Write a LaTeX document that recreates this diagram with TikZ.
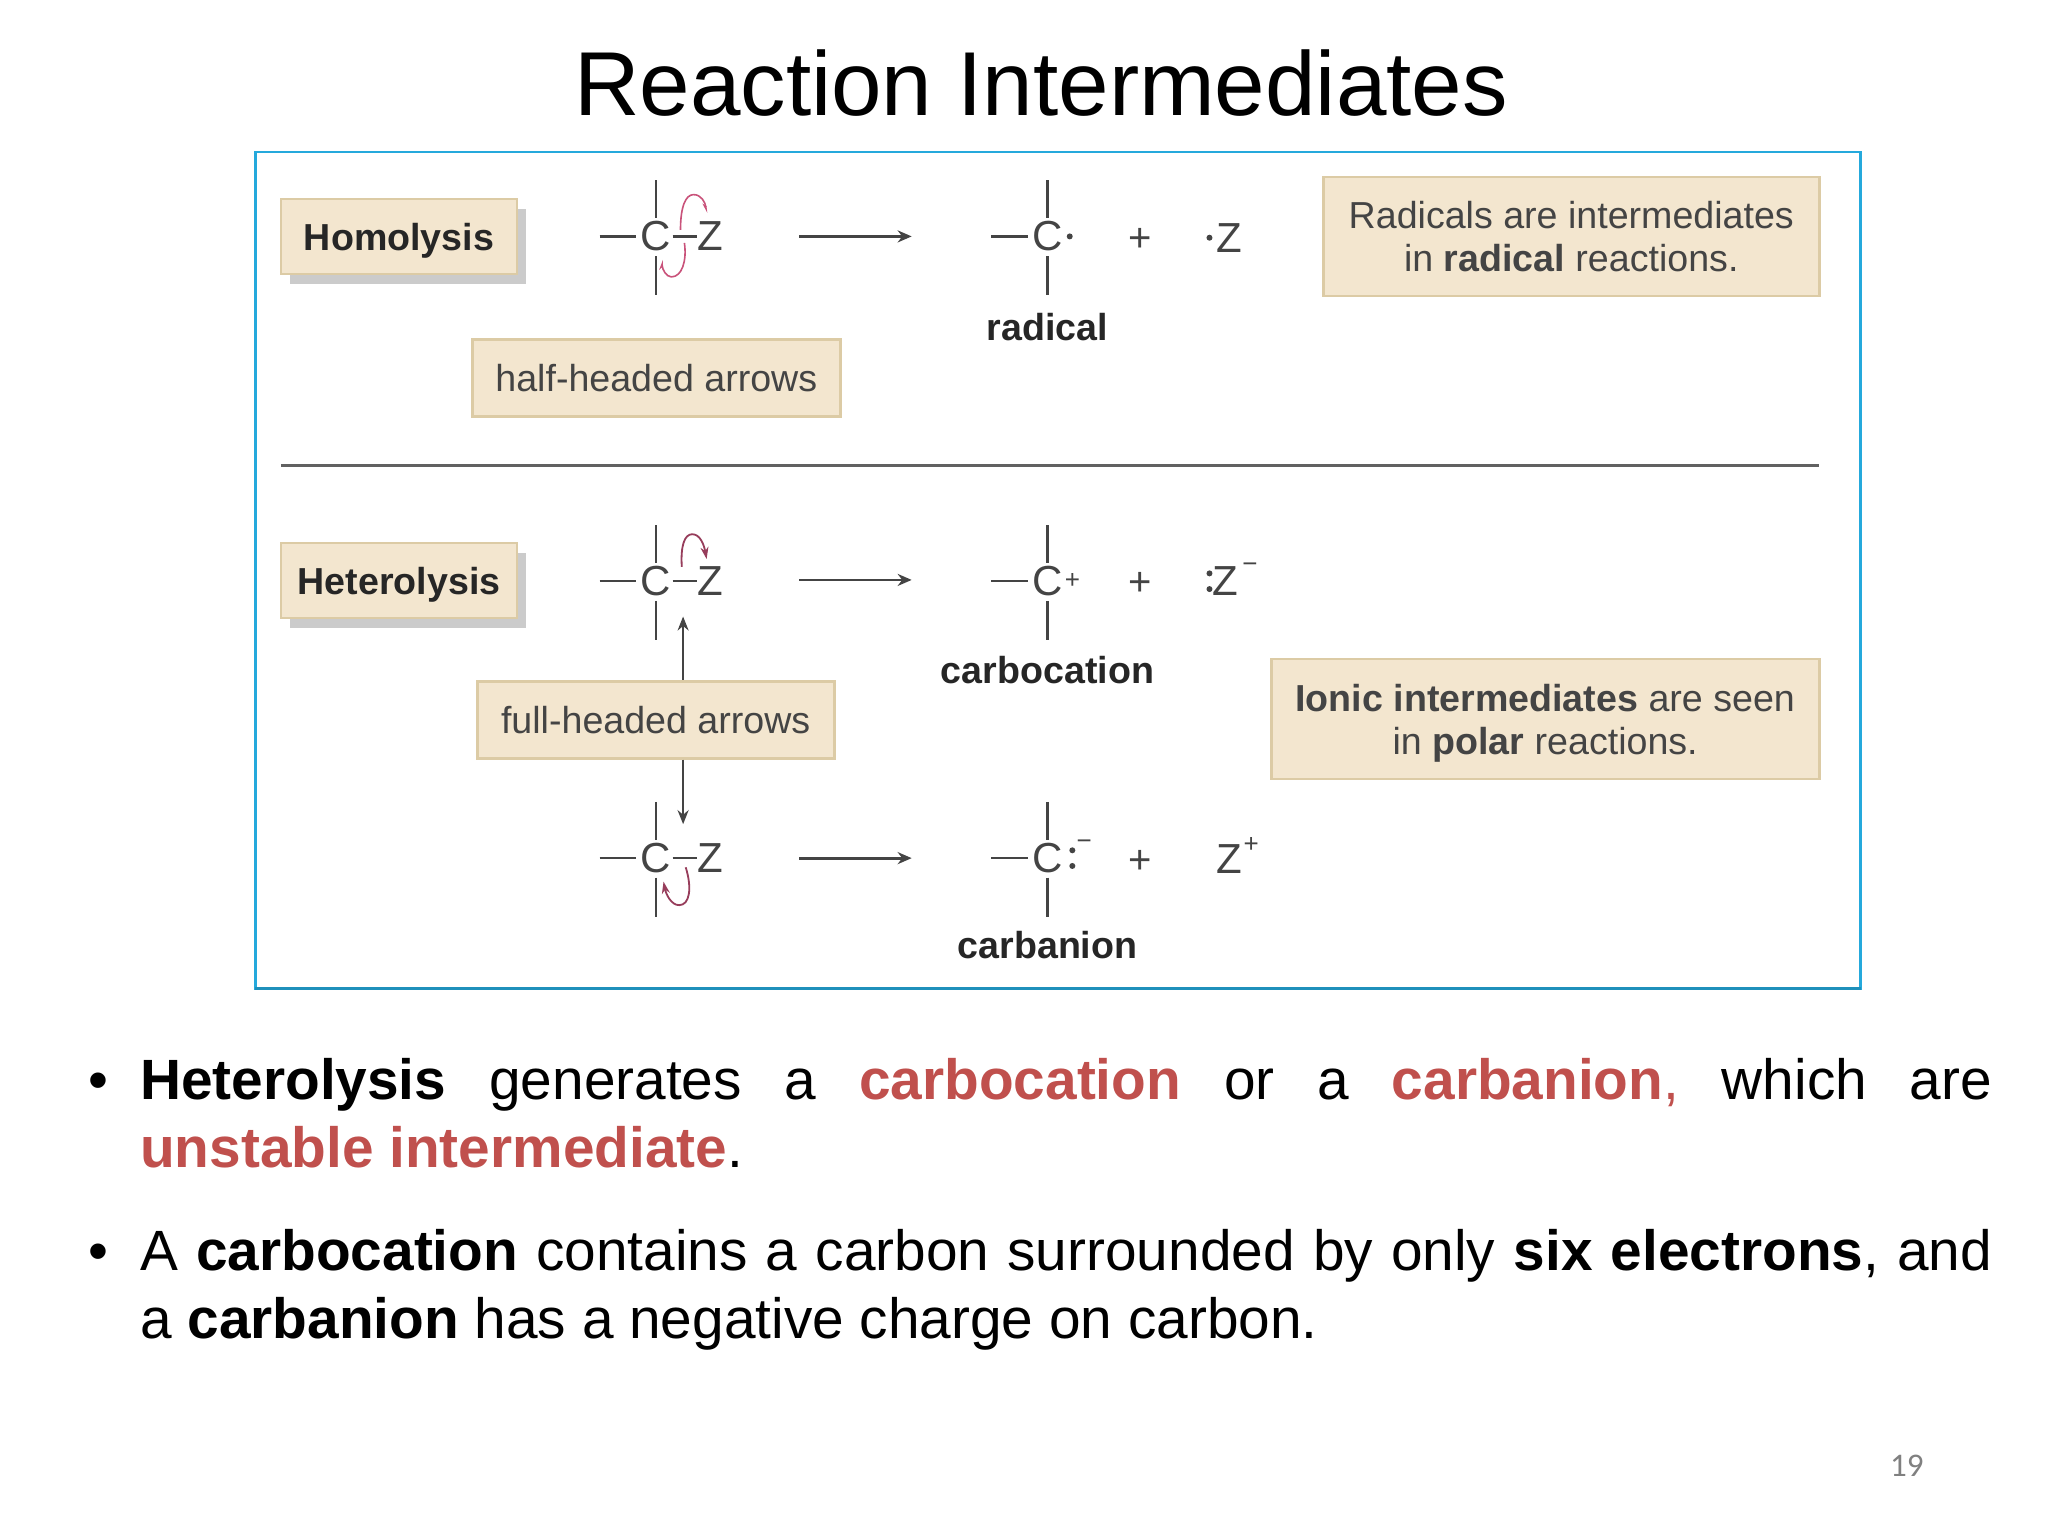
\documentclass[tikz,border=0pt]{standalone}
\usepackage{fontspec}
\setmainfont{Liberation Sans}
\newfontfamily\pagefont{Carlito}
\usetikzlibrary{arrows.meta,shadows}
\definecolor{boxfill}{HTML}{F3E6CF}
\definecolor{boxline}{HTML}{DCCBA5}
\definecolor{framec}{HTML}{25A9DC}
\definecolor{redword}{HTML}{C0504D}
\definecolor{curly}{HTML}{C9527A}
\definecolor{ink}{HTML}{444444}
\tikzset{
  x=0.65306pt,y=-0.65306pt,
  labbox/.style={draw=boxline,fill=boxfill,line width=1.4pt,inner sep=0pt,align=center,text=ink,
    font=\fontsize{18.8}{21.5}\selectfont},
  sbox/.style={labbox,text=black!85,drop shadow={shadow xshift=4.5pt,shadow yshift=-5pt,fill=black!45,opacity=.45}},
  atom/.style={inner sep=0pt,text=ink,font=\fontsize{21}{24}\selectfont},
  plussign/.style={inner sep=0pt,text=ink,font=\fontsize{20}{22}\selectfont},
  supersign/.style={inner sep=0pt,text=ink,font=\fontsize{13}{14}\selectfont},
  edot/.style={circle,fill=ink,inner sep=0pt,minimum size=3pt},
  bondl/.style={draw=ink,line width=1.1pt},
  rxn/.style={draw=ink,line width=1.4pt,-{Stealth[length=7pt,width=6pt]}},
  pointer/.style={draw=ink,line width=1.1pt,-{Stealth[length=7pt,width=5.5pt]}},
  species/.style={inner sep=0pt,anchor=base,text=black!85,font=\fontsize{18.8}{21}\selectfont\bfseries},
  curlyh/.style={draw=curly,line width=.8pt},
  curlyf/.style={draw=curly!75!black,line width=.9pt,-{Stealth[length=6pt,width=4pt]}},
  body/.style={inner sep=0pt,anchor=base west,font=\fontsize{28.4}{34}\selectfont},
  bullet/.style={inner sep=0pt,anchor=base,font=\fontsize{28.4}{34}\selectfont}
}
\newcommand{\molec}[3]{% name, x, y
  \node[atom] (#1) at (#2,#3) {C};
  \coordinate (#1l) at (#2-43,#3);
  \coordinate (#1L) at (#2-15,#3);
  \coordinate (#1t) at (#2,#3-43);
  \coordinate (#1T) at (#2,#3-14);
  \coordinate (#1b) at (#2,#3+45);
  \coordinate (#1B) at (#2,#3+15);
  \draw[bondl] (#1l) -- (#1L);
  \draw[bondl] (#1t) -- (#1T);
  \draw[bondl] (#1B) -- (#1b);
}
\newcommand{\bodyword}[1]{\textcolor{redword}{\bfseries #1}}
\newcommand{\boxline}[1]{\raisebox{-2.6pt}[\height][\depth]{\strut #1}}
\begin{document}
\begin{tikzpicture}
\useasboundingbox (0,0) rectangle (1568,1176);
\fill[white] (0,0) rectangle (1568,1176);
\node[inner sep=0pt,font=\fontsize{45.4}{50}\selectfont] (title) at (797,63.5) {Reaction Intermediates};
\coordinate (fa) at (195.5,116.5);
\coordinate (fb) at (1424.5,757);
\draw[framec,line width=1.2pt] (fa) rectangle (fb);
\draw[framec!85!black,line width=1.7pt] (fa |- fb) -- (fb);
% boxes
\node[sbox,minimum width=118pt,minimum height=37.5pt] (homo) at (305.5,181) {\boxline{\bfseries Homolysis}};
\node[labbox,minimum width=184pt,minimum height=38.5pt] (half) at (502.5,289.5) {\boxline{half-headed arrows}};
\node[labbox,minimum width=248pt,minimum height=59.5pt] (rad) at (1203,181) {Radicals are intermediates\\in {\bfseries radical} reactions.};
\coordinate (da) at (215,356.5);
\coordinate (db) at (1393,356.5);
\draw[draw=black!62,line width=1.8pt] (da) -- (db);
\node[sbox,minimum width=118pt,minimum height=37.5pt] (hetero) at (305.5,444.5) {\boxline{\bfseries Heterolysis}};
\node[labbox,minimum width=178.5pt,minimum height=38.5pt] (full) at (502,551) {\boxline{full-headed arrows}};
\node[labbox,minimum width=274pt,minimum height=60pt] (ionic) at (1183,550.5) {\rule{0pt}{18pt}{\bfseries Ionic intermediates} are seen\\in {\bfseries polar} reactions.};
% row 1
\molec{a}{502}{181}
\node[atom] (az) at (544,181) {Z};
\draw[bondl] (a) ++(13,0) coordinate (abs) -- (az.west);
\coordinate (r1s) at (612,181); \coordinate (r1e) at (698,181);
\draw[rxn] (r1s) -- (r1e);
\molec{b}{802}{181}
\node[edot] (bdot) at (819,181) {};
\node[plussign] (bplus) at (873,184) {+};
\node[edot] (bzdot) at (926,182) {};
\node[atom] (bz) at (941,182) {Z};
\node[species] (lrad) at (802,261) {radical};
\coordinate (h1a) at (521,176); \coordinate (h1b) at (531,149); \coordinate (h1c) at (541,163);
\draw[curlyh,-{Stealth[right,length=4pt,width=3pt]}] (h1a) .. controls (521,158) and (525,149) .. (h1b) .. controls (537,149) and (540,155) .. (h1c);
\coordinate (h2a) at (524,186); \coordinate (h2b) at (514,212); \coordinate (h2c) at (507,199);
\draw[curlyh,-{Stealth[left,length=4pt,width=3pt]}] (h2a) .. controls (526,200) and (522,212) .. (h2b) .. controls (510,212) and (507,206) .. (h2c);
% row 2
\molec{c}{502}{445}
\node[atom] (cz) at (544,445) {Z};
\draw[bondl] (c) ++(13,0) -- (cz.west);
\coordinate (r2s) at (612,444); \coordinate (r2e) at (698,444);
\draw[rxn] (r2s) -- (r2e);
\molec{d}{802}{445}
\node[supersign] (dplus) at (821,445) {+};
\node[plussign] (eplus) at (873,447) {+};
\node[edot] (ezd1) at (926,439) {};
\node[edot] (ezd2) at (926,451) {};
\node[atom] (ez) at (938,445) {Z};
\node[supersign] (ezm) at (957,435) {−};
\node[species] (lcat) at (802,523) {carbocation};
\coordinate (h3a) at (522,434); \coordinate (h3b) at (530,409); \coordinate (h3c) at (541,428);
\draw[curlyf] (h3a) .. controls (521,418) and (524,409) .. (h3b) .. controls (536,409) and (539,417) .. (h3c);
% row 3
\molec{e}{502}{657}
\node[atom] (fz) at (544,657) {Z};
\draw[bondl] (e) ++(13,0) -- (fz.west);
\coordinate (r3s) at (612,657); \coordinate (r3e) at (698,657);
\draw[rxn] (r3s) -- (r3e);
\molec{f}{802}{657}
\node[edot] (fc1) at (821,651) {};
\node[edot] (fc2) at (821,663) {};
\node[supersign] (fm) at (830,647) {−};
\node[plussign] (gplus) at (873,660) {+};
\node[atom] (gz) at (941,658) {Z};
\node[supersign] (gp) at (958,647) {+};
\node[species] (lani) at (802,734) {carbanion};
\coordinate (h4a) at (525,664); \coordinate (h4b) at (520,693); \coordinate (h4c) at (508,675);
\draw[curlyf] (h4a) .. controls (530,680) and (528,693) .. (h4b) .. controls (514,693) and (510,685) .. (h4c);
% full-headed pointers
\coordinate (up) at (523,472);
\coordinate (dn) at (523,631);
\draw[pointer] (full.north -| up) -- (up);
\draw[pointer] (full.south -| dn) -- (dn);
% body
\node[bullet] (b1) at (75,842) {•};
\node[body] (l1) at (107,842) {\hbox to 926pt{{\bfseries Heterolysis}\hfill generates\hfill a\hfill \bodyword{carbocation}\hfill or\hfill a\hfill \bodyword{carbanion}\textcolor{redword}{,}\hfill which\hfill are}};
\node[body] (l2) at (107,894) {\bodyword{unstable intermediate}.};
\node[bullet] (b2) at (75,973) {•};
\node[body] (l3) at (107,973) {\hbox to 926pt{A\hfill {\bfseries carbocation}\hfill contains\hfill a\hfill carbon\hfill surrounded\hfill by\hfill only\hfill {\bfseries six}\hfill {\bfseries electrons},\hfill and}};
\node[body] (l4) at (107,1025) {a {\bfseries carbanion} has a negative charge on carbon.};
\node[inner sep=0pt,text=black!50,font=\fontsize{16.5}{18}\pagefont] (pg) at (1460,1122) {19};
\end{tikzpicture}
\end{document}
